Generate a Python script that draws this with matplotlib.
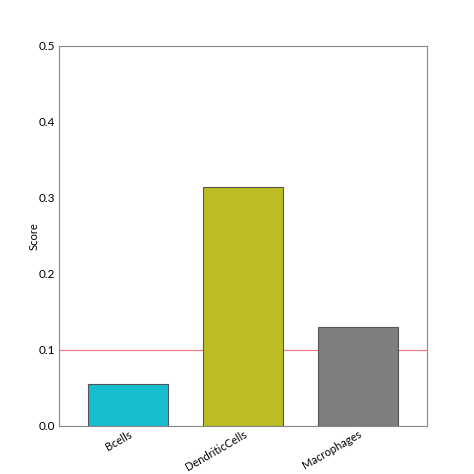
import matplotlib
matplotlib.use("Agg")
import matplotlib.pyplot as plt

plt.rcParams["font.family"] = ["Lato", "DejaVu Sans"]

cells = ["Bcells", "DendriticCells", "Macrophages"]
scores = [0.055, 0.315, 0.130]
colors = ["#17becf", "#bcbd22", "#7f7f7f"]
threshold = 0.1

fig = plt.figure(figsize=(4.74, 4.74), dpi=100)
ax = fig.add_axes([59/474, 48/474, 368/474, 380/474])

ax.bar(range(len(cells)), scores, width=0.7, color=colors, edgecolor="#555555", linewidth=0.8, zorder=2)
ax.axhline(threshold, color="#f08080", lw=0.9, zorder=1)

ax.set_xlim(-0.6, 2.6)
ax.set_ylim(0, 0.5)
ax.set_yticks([0.0, 0.1, 0.2, 0.3, 0.4, 0.5])
ax.set_xticks(range(len(cells)))
ax.set_xticklabels(cells, rotation=30, ha="right", va="top", rotation_mode="anchor", fontsize=8)
ax.tick_params(length=0, labelsize=8.5, pad=3)
ax.tick_params(axis="x", labelsize=8, pad=2)
ax.set_ylabel("Score", fontsize=8, labelpad=-1)
for s in ax.spines.values():
    s.set_color("#888888")
    s.set_linewidth(0.8)

fig.savefig("out.png", dpi=100)
